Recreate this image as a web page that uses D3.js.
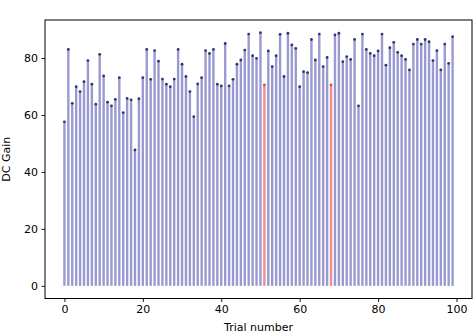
<!DOCTYPE html>
<html>
<head>
<meta charset="utf-8">
<script src="https://cdn.jsdelivr.net/npm/d3@7"></script>
<style>
  html, body { margin: 0; padding: 0; background: #fff; }
  svg { display: block; }
  text { font-family: "DejaVu Sans", sans-serif; }
</style>
</head>
<body>
<svg id="chart" width="474" height="335"></svg>
<script>
// DC gain per trial (trial index = array position)
const dcGain = [
  57.6, 83.0, 64.1, 69.9, 68.2, 71.7, 79.1, 70.8, 63.8, 81.3,
  73.7, 64.5, 63.2, 65.5, 73.1, 60.8, 65.8, 65.3, 47.7, 65.7,
  73.1, 83.0, 72.5, 82.6, 78.9, 72.6, 70.8, 69.9, 72.6, 83.0,
  77.8, 73.5, 68.2, 59.4, 70.9, 73.1, 82.6, 81.6, 83.0, 70.8,
  70.2, 85.1, 70.2, 72.5, 77.8, 79.3, 82.8, 88.4, 80.8, 79.9,
  88.9, 70.6, 82.5, 77.0, 80.8, 88.3, 73.5, 88.7, 84.6, 83.4,
  69.9, 75.2, 74.9, 86.5, 79.3, 88.4, 77.0, 80.2, 70.6, 88.1,
  88.7, 78.7, 80.5, 79.5, 86.5, 63.2, 88.4, 83.0, 81.6, 80.8,
  82.5, 88.4, 77.5, 83.6, 85.5, 82.0, 80.8, 79.5, 75.8, 84.9,
  86.5, 84.9, 86.5, 85.7, 79.1, 82.6, 75.8, 84.9, 78.1, 87.5
];
// Trials highlighted in red
const flaggedTrials = [51, 68];
const xTicks = [0, 20, 40, 60, 80, 100];
const yTicks = [0, 20, 40, 60, 80];

const svg = d3.select("#chart");
const plot = { left: 45, right: 472, top: 20, bottom: 298.5 };

const n = dcGain.length;
const xPad = (n - 1) * 0.05;
const yMax = d3.max(dcGain);
const yPad = yMax * 0.05;

const x = d3.scaleLinear().domain([-xPad, n - 1 + xPad]).range([plot.left, plot.right]);
const y = d3.scaleLinear().domain([-yPad, yMax + yPad]).range([plot.bottom, plot.top]);

const data = dcGain.map((v, i) => ({ i, v, flagged: flaggedTrials.includes(i) }));

// stems
svg.append("g").selectAll("line").data(data).join("line")
  .attr("x1", d => x(d.i)).attr("x2", d => x(d.i))
  .attr("y1", y(0)).attr("y2", d => y(d.v))
  .attr("stroke", d => d.flagged ? "#f08c8c" : "#9a9ad2")
  .attr("stroke-width", 2.4);

// markers
svg.append("g").selectAll("circle").data(data).join("circle")
  .attr("cx", d => x(d.i)).attr("cy", d => y(d.v))
  .attr("r", 1.4)
  .attr("fill", d => d.flagged ? "#c85050" : "#34346e");

// axes
const xAxis = d3.axisBottom(x).tickValues(xTicks).tickSize(3.5).tickPadding(3.5).tickFormat(d3.format("d"));
const yAxis = d3.axisLeft(y).tickValues(yTicks).tickSize(3.5).tickPadding(3.5).tickFormat(d3.format("d"));

const gx = svg.append("g").attr("transform", `translate(0,${plot.bottom})`).call(xAxis);
const gy = svg.append("g").attr("transform", `translate(${plot.left},0)`).call(yAxis);
[gx, gy].forEach(g => {
  g.select(".domain").remove();
  g.selectAll("line").attr("stroke", "#000").attr("stroke-width", 0.9);
  g.selectAll("text").attr("font-size", 11).attr("fill", "#000")
    .attr("font-family", "DejaVu Sans, sans-serif");
});

// frame
svg.append("rect")
  .attr("x", plot.left).attr("y", plot.top)
  .attr("width", plot.right - plot.left).attr("height", plot.bottom - plot.top)
  .attr("fill", "none").attr("stroke", "#000").attr("stroke-width", 1);

// axis labels
svg.append("text")
  .attr("x", (plot.left + plot.right) / 2).attr("y", 331)
  .attr("text-anchor", "middle").attr("font-size", 11)
  .text("Trial number");

svg.append("text")
  .attr("transform", `translate(10,${(plot.top + plot.bottom) / 2}) rotate(-90)`)
  .attr("text-anchor", "middle").attr("font-size", 11)
  .text("DC Gain");
</script>
</body>
</html>
